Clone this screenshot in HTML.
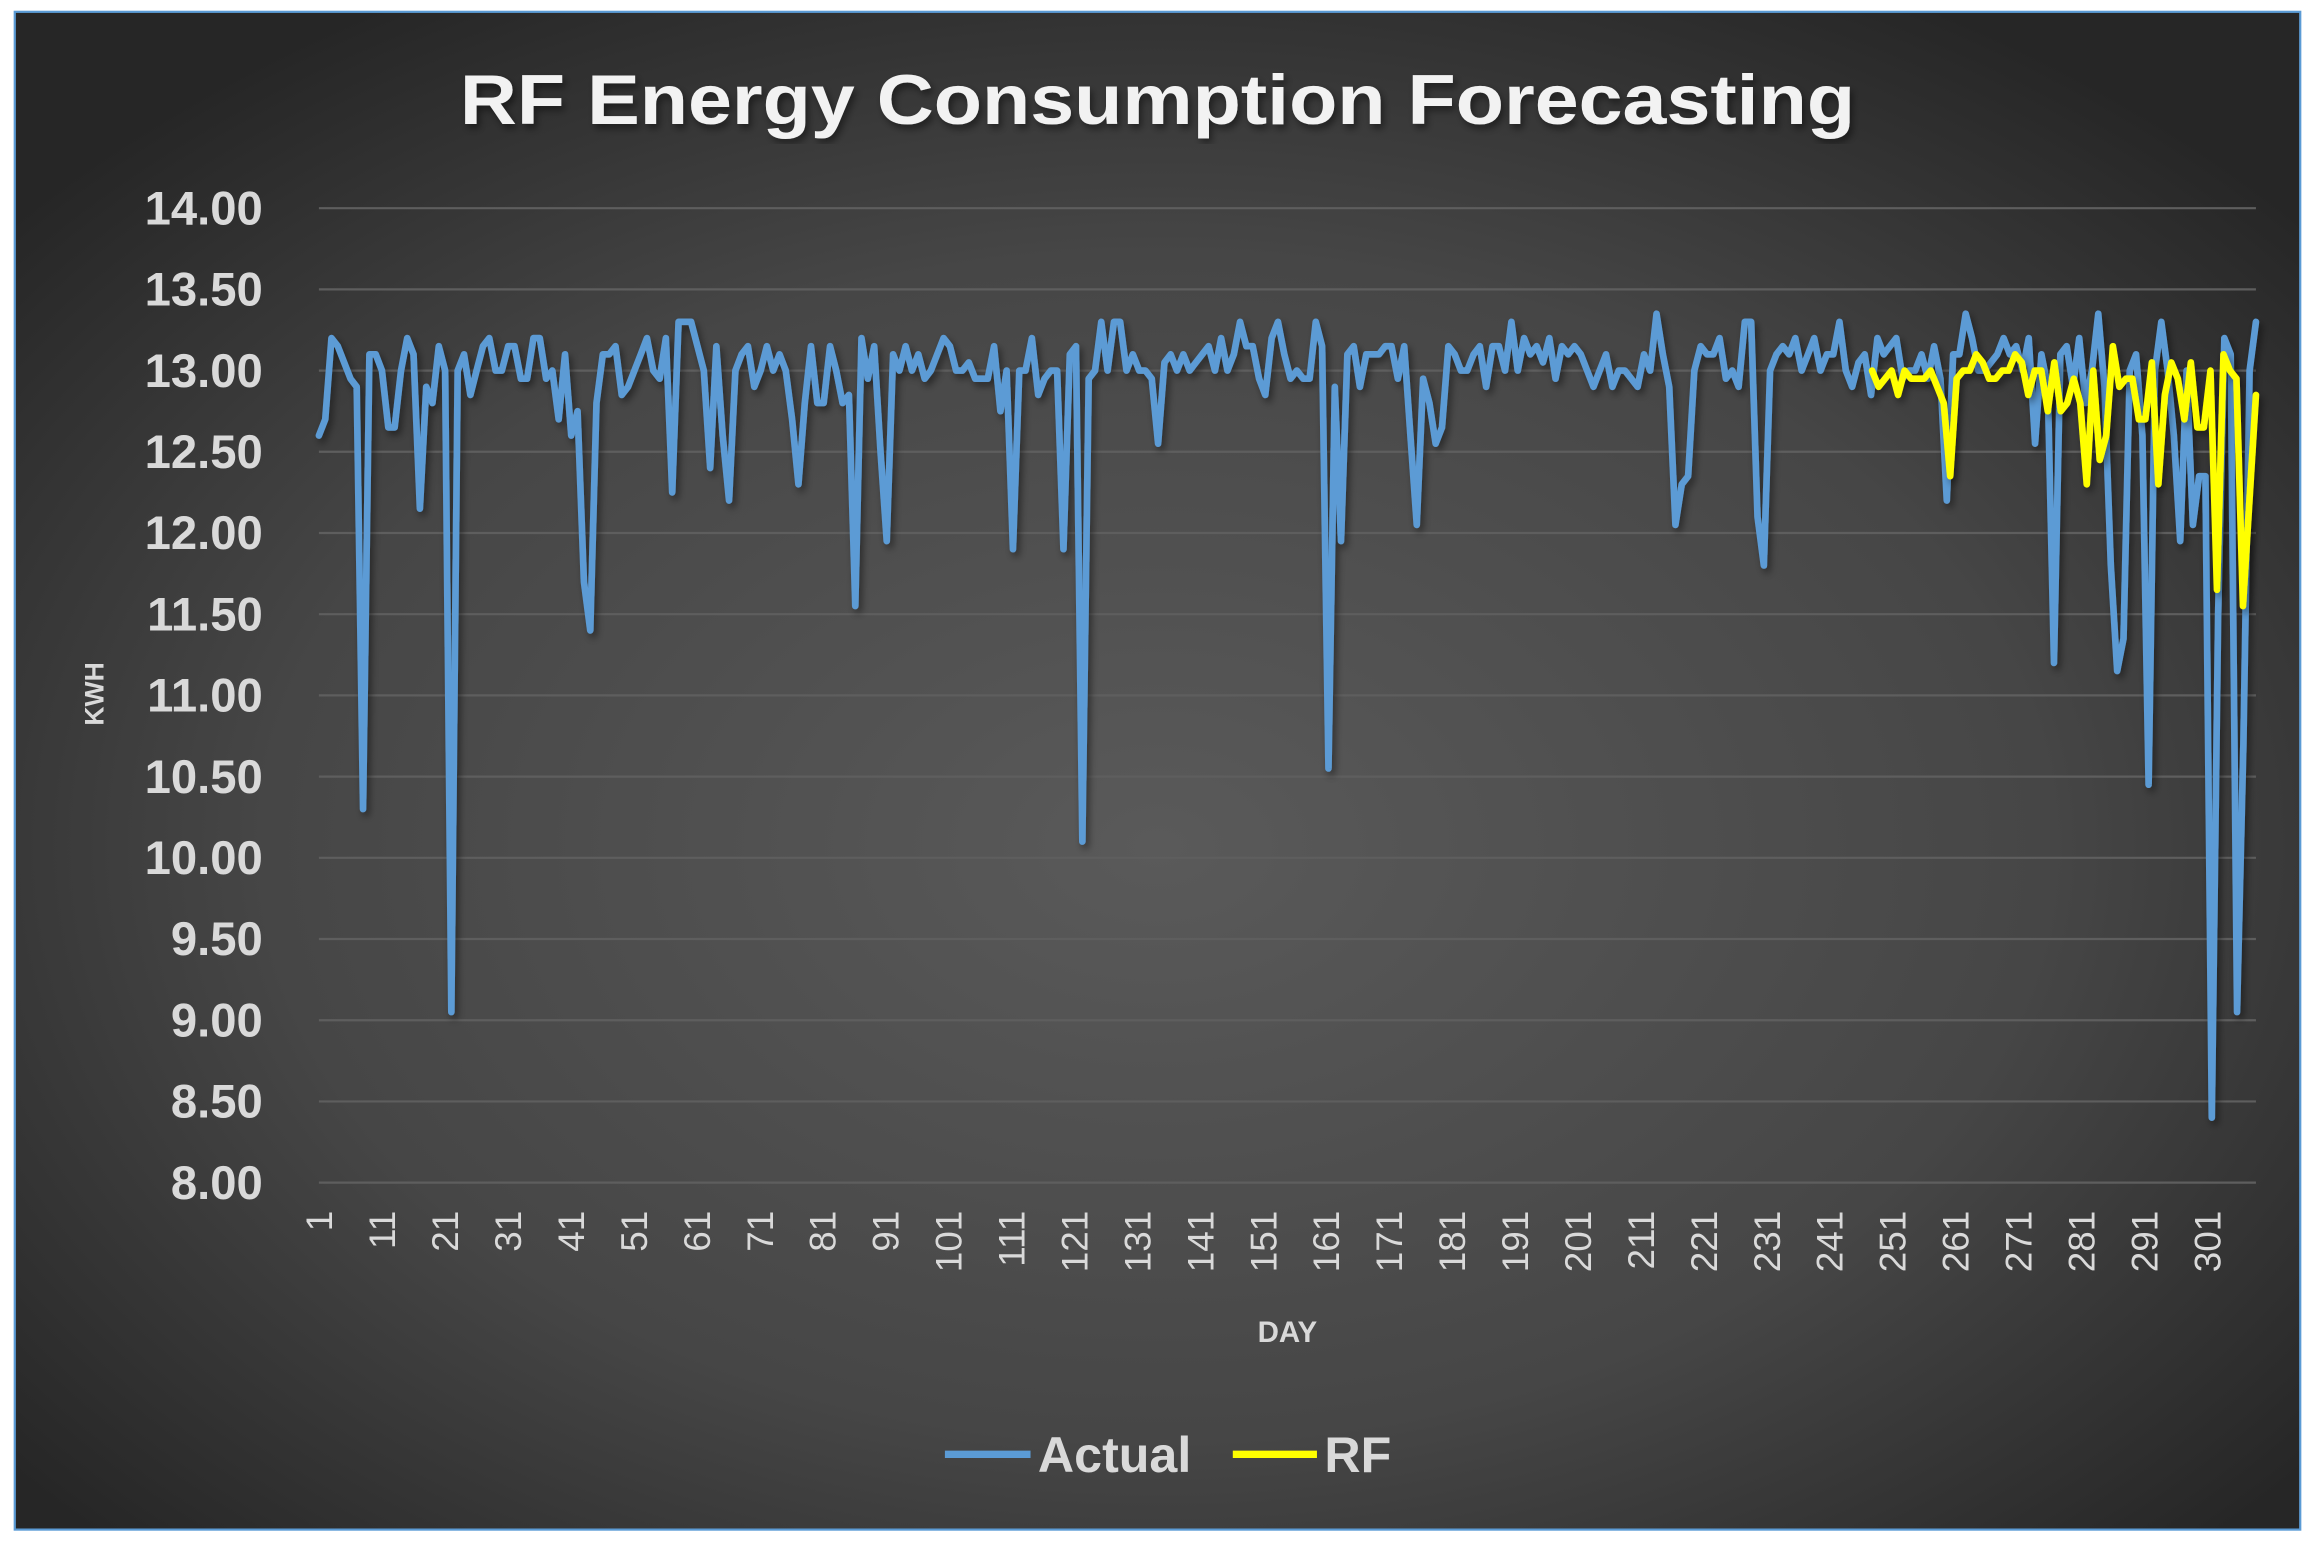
<!DOCTYPE html>
<html><head><meta charset="utf-8"><style>
html,body{margin:0;padding:0;background:#fff;}
svg{display:block;}
text{font-family:"Liberation Sans",sans-serif;}
</style></head><body>
<svg id="s" width="2315" height="1551" viewBox="0 0 1568 1050.5" preserveAspectRatio="none" xmlns="http://www.w3.org/2000/svg">
<defs>
<radialGradient id="bg" cx="50%" cy="55%" r="65%">
<stop offset="0" stop-color="#5a5a5a"/><stop offset="0.6" stop-color="#464646"/><stop offset="1" stop-color="#262626"/>
</radialGradient>
<filter id="sh" x="-5%" y="-5%" width="110%" height="110%"><feDropShadow dx="2" dy="3" stdDeviation="2.5" flood-color="#000" flood-opacity="0.45"/></filter>
</defs>
<rect x="0" y="0" width="1568" height="1050.5" fill="#fff"/>
<rect x="10" y="8" width="1548" height="1028" fill="url(#bg)" stroke="#5b9bd5" stroke-width="1.5"/>
<text x="784" y="84" text-anchor="middle" font-size="48" font-weight="bold" fill="#f2f2f2" textLength="945" lengthAdjust="spacingAndGlyphs" filter="url(#sh)">RF Energy Consumption Forecasting</text>
<g id="grid"></g>
<g id="ylab" font-size="32" font-weight="bold" fill="#d9d9d9" text-anchor="end"></g>
<g id="xlab" font-size="25" fill="#d9d9d9"></g>
<text transform="translate(70,470) rotate(-90)" text-anchor="middle" font-size="18" font-weight="bold" fill="#d9d9d9">KWH</text>
<text x="872" y="909" text-anchor="middle" font-size="20" font-weight="bold" fill="#d9d9d9">DAY</text>
<g id="lines"></g>
<line x1="640" y1="985" x2="698" y2="985" stroke="#5b9bd5" stroke-width="5"/>
<text x="703" y="997" font-size="34" font-weight="bold" fill="#d9d9d9">Actual</text>
<line x1="835" y1="985" x2="892" y2="985" stroke="#ffff00" stroke-width="5"/>
<text x="897" y="997" font-size="34" font-weight="bold" fill="#d9d9d9">RF</text>
</svg>
<script>
var NS="http://www.w3.org/2000/svg";
function el(t,a,p,txt){var e=document.createElementNS(NS,t);for(var k in a)e.setAttribute(k,a[k]);if(txt!==undefined)e.textContent=txt;document.getElementById(p).appendChild(e);return e;}
function Y(v){return 801-(v-8)*110;}
for(var i=0;i<=12;i++){var v=8+i*0.5,y=Y(v);
el("line",{x1:216,x2:1528,y1:y,y2:y,stroke:"#5e5e5e","stroke-width":1.5},"grid");
el("text",{x:178,y:y+11},"ylab",v.toFixed(2));}
var X0=216,dx=4.263;
for(var d=1;d<=301;d+=10){var x=X0+(d-1)*dx;
el("text",{transform:"translate("+(x+9)+",820) rotate(-90)","text-anchor":"end"},"xlab",String(d));}
var A=[12.6,12.7,13.2,13.15,13.05,12.95,12.9,10.3,13.1,13.1,13.0,12.65,12.65,13.0,13.2,13.1,12.15,12.9,12.8,13.15,13.0,9.05,13.0,13.1,12.85,13.0,13.15,13.2,13.0,13.0,13.15,13.15,12.95,12.95,13.2,13.2,12.95,13.0,12.7,13.1,12.6,12.75,11.7,11.4,12.8,13.1,13.1,13.15,12.85,12.9,13.0,13.1,13.2,13.0,12.95,13.2,12.25,13.3,13.3,13.3,13.15,13.0,12.4,13.15,12.6,12.2,13.0,13.1,13.15,12.9,13.0,13.15,13.0,13.1,13.0,12.7,12.3,12.8,13.15,12.8,12.8,13.15,13.0,12.8,12.85,11.55,13.2,12.95,13.15,12.5,11.95,13.1,13.0,13.15,13.0,13.1,12.95,13.0,13.1,13.2,13.15,13.0,13.0,13.05,12.95,12.95,12.95,13.15,12.75,13.0,11.9,13.0,13.0,13.2,12.85,12.95,13.0,13.0,11.9,13.1,13.15,10.1,12.95,13.0,13.3,13.0,13.3,13.3,13.0,13.1,13.0,13.0,12.95,12.55,13.05,13.1,13.0,13.1,13.0,13.05,13.1,13.15,13.0,13.2,13.0,13.1,13.3,13.15,13.15,12.95,12.85,13.2,13.3,13.1,12.95,13.0,12.95,12.95,13.3,13.15,10.55,12.9,11.95,13.1,13.15,12.9,13.1,13.1,13.1,13.15,13.15,12.95,13.15,12.6,12.05,12.95,12.8,12.55,12.65,13.15,13.1,13.0,13.0,13.1,13.15,12.9,13.15,13.15,13.0,13.3,13.0,13.2,13.1,13.15,13.05,13.2,12.95,13.15,13.1,13.15,13.1,13.0,12.9,13.0,13.1,12.9,13.0,13.0,12.95,12.9,13.1,13.0,13.35,13.1,12.9,12.05,12.3,12.35,13.0,13.15,13.1,13.1,13.2,12.95,13.0,12.9,13.3,13.3,12.1,11.8,13.0,13.1,13.15,13.1,13.2,13.0,13.1,13.2,13.0,13.1,13.1,13.3,13.0,12.9,13.05,13.1,12.85,13.2,13.1,13.15,13.2,12.95,13.0,13.0,13.1,12.95,13.15,12.95,12.2,13.1,13.1,13.35,13.2,13.0,13.0,13.05,13.1,13.2,13.1,13.15,13.0,13.2,12.55,13.1,12.9,11.2,13.1,13.15,12.9,13.2,12.8,13.0,13.35,12.9,11.8,11.15,11.35,13.0,13.1,12.6,10.45,13.0,13.3,13.0,12.6,11.95,13.0,12.05,12.35,12.35,8.4,11.5,13.2,13.1,9.05,10.7,13.0,13.3];
var R=[13.0,12.9,12.95,13.0,12.85,13.0,12.95,12.95,12.95,13.0,12.9,12.8,12.35,12.95,13.0,13.0,13.1,13.05,12.95,12.95,13.0,13.0,13.1,13.05,12.85,13.0,13.0,12.75,13.05,12.75,12.8,12.95,12.8,12.3,13.0,12.45,12.6,13.15,12.9,12.95,12.95,12.7,12.7,13.05,12.3,12.85,13.05,12.95,12.7,13.05,12.65,12.65,13.0,11.65,13.1,13.0,12.95,11.55,12.2,12.85];
function path(arr,x0,x1){var s="";for(var i=0;i<arr.length;i++){var x=x0+(x1-x0)*i/(arr.length-1);s+=(i?"L":"M")+x.toFixed(1)+","+Y(arr[i]).toFixed(1);}return s;}
el("path",{d:path(A,216,1528),fill:"none",stroke:"#5b9bd5","stroke-width":4.5,"stroke-linejoin":"round","stroke-linecap":"round",filter:"url(#sh)"},"lines");
el("path",{d:path(R,1268,1528),fill:"none",stroke:"#ffff00","stroke-width":4.5,"stroke-linejoin":"round","stroke-linecap":"round",filter:"url(#sh)"},"lines");
</script>
</body></html>
